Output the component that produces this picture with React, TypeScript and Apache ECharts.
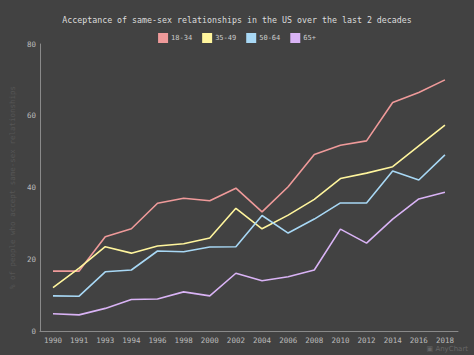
import React, { useEffect, useRef } from "react";
import * as echarts from "echarts";

const years = ["1990","1991","1993","1994","1996","1998","2000","2002","2004","2006","2008","2010","2012","2014","2016","2018"];
const s1834 = [16.7,16.7,26.3,28.5,35.6,37.0,36.3,39.8,33.2,40.2,49.2,51.8,53.0,63.7,66.5,70.0];
const s3549 = [12.1,17.5,23.5,21.7,23.7,24.3,25.9,34.2,28.5,32.3,36.7,42.5,44.0,45.8,51.6,57.4];
const s5064 = [9.8,9.7,16.5,17.0,22.3,22.1,23.4,23.5,32.2,27.3,31.2,35.7,35.7,44.6,42.1,49.1];
const s65 = [4.8,4.5,6.3,8.8,8.9,10.9,9.8,16.1,14.0,15.1,17.0,28.4,24.5,31.2,36.8,38.7];
const yTicks = [0, 20, 40, 60, 80];

const names = ["18-34", "35-49", "50-64", "65+"];
const colors = ["#ef9a9a", "#fff59d", "#a8d8f5", "#d9b3f5"];
const font = "'DejaVu Sans Mono', monospace";

export default function App() {
  const ref = useRef<HTMLDivElement>(null);
  useEffect(() => {
    const chart = echarts.init(ref.current!, null, { renderer: "svg" });
    const data = [s1834, s3549, s5064, s65];
    chart.setOption({
      animation: false,
      backgroundColor: "#424242",
      title: {
        text: "Acceptance of same-sex relationships in the US over the last 2 decades",
        left: "center",
        top: 11,
        textStyle: { color: "#dddddd", fontSize: 8.3, fontWeight: "normal", fontFamily: font },
      },
      legend: {
        top: 28,
        left: "center",
        itemWidth: 10,
        itemHeight: 10,
        itemGap: 10,
        icon: "rect",
        textStyle: { color: "#cccccc", fontSize: 7, fontFamily: font, padding: [0, 0, 0, -2] },
        data: names.map((n, i) => ({ name: n, itemStyle: { color: colors[i] } })),
      },
      grid: { left: 34, right: 16, top: 44, bottom: 24 },
      xAxis: {
        type: "category",
        data: years,
        boundaryGap: true,
        axisLine: { lineStyle: { color: "#8a8a8a" } },
        axisTick: { show: false },
        axisLabel: { color: "#bbbbbb", fontSize: 7.5, fontFamily: font, margin: 5, interval: 0 },
      },
      yAxis: {
        type: "value",
        min: 0,
        max: 80,
        interval: 20,
        name: "% of people who accept same-sex relationships",
        nameLocation: "middle",
        nameGap: 20,
        nameTextStyle: { color: "#555555", fontSize: 7.5, fontFamily: font },
        axisLine: { show: true, lineStyle: { color: "#8a8a8a" } },
        axisTick: { show: false },
        splitLine: { show: false },
        axisLabel: {
          color: "#bbbbbb",
          fontSize: 7.5,
          fontFamily: font,
          margin: 4,
          formatter: (v: number) => (yTicks.includes(v) ? String(v) : ""),
        },
      },
      graphic: [
        {
          type: "text",
          right: 6,
          bottom: 3,
          style: { text: "▣ AnyChart", fill: "#666666", fontSize: 7, fontFamily: "'DejaVu Sans', sans-serif" },
        },
      ],
      series: data.map((d, i) => ({
        name: names[i],
        type: "line",
        data: d,
        symbol: "none",
        lineStyle: { color: colors[i], width: 1.6 },
        itemStyle: { color: colors[i] },
      })),
    });
    return () => chart.dispose();
  }, []);
  return <div ref={ref} style={{ width: 474, height: 355, position: "absolute", left: 0, top: 0 }} />;
}
